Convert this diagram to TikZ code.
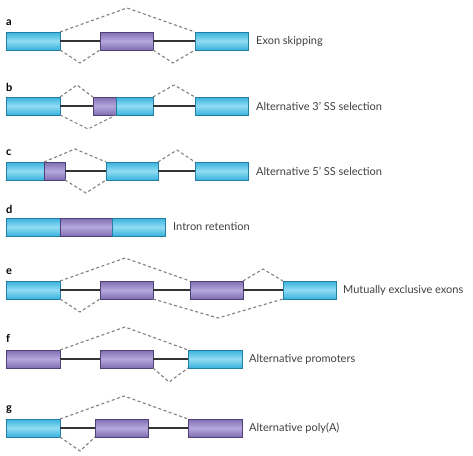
\documentclass[tikz,border=0pt]{standalone}
\usepackage{fontspec}
\setmainfont{Lato}
\usetikzlibrary{positioning}
\definecolor{exoncyan}{RGB}{55,178,220}
\definecolor{exoncyanlt}{RGB}{145,220,244}
\definecolor{exoncyandk}{RGB}{35,125,165}
\definecolor{exonpurp}{RGB}{128,110,178}
\definecolor{exonpurplt}{RGB}{180,168,220}
\definecolor{exonpurpdk}{RGB}{80,64,120}
\tikzset{
    exon/.style={inner sep=0pt, outer sep=0pt, minimum height=18pt, anchor=north west, line width=0.6pt}, % common box
    cexon/.style={exon, draw=exoncyandk, top color=exoncyan, bottom color=exoncyan, middle color=exoncyanlt},
    pexon/.style={exon, draw=exonpurpdk, top color=exonpurp, bottom color=exonpurp, middle color=exonpurplt},
    intron/.style={draw=black!80, line width=1.1pt}, % plain intron line
    splice/.style={draw=black!50, line width=1.1pt, dash pattern=on 3pt off 2.5pt}, % splicing path
    tag/.style={anchor=west, inner sep=0pt, font=\bfseries\fontsize{11}{12}\selectfont},
    caption/.style={anchor=west, inner sep=0pt, text=black!75, font=\fontsize{11}{12}\selectfont},
}
\begin{document}
\begin{tikzpicture}[x=1pt, y=-1pt]
    \useasboundingbox[fill=white] (0,0) rectangle (473,455);

    % a: exon skipping
    \node[tag] (atag) at (6,23) {a};
    \node[cexon, minimum width=54pt] (a1) at (6,32) {};
    \node[pexon, minimum width=53pt] (a2) at (100,32) {};
    \node[cexon, minimum width=53pt] (a3) at (195,32) {};
    \node[caption] (acap) at (256,41) {Exon skipping};
    \coordinate (atop) at (127,8);
    \coordinate (adipl) at (80,63);
    \coordinate (adipr) at (173,63);
    \draw[intron] (a1) -- (a2);
    \draw[intron] (a2) -- (a3);
    \draw[splice] (a1.north east) -- (atop) -- (a3.north west);
    \draw[splice] (a1.south east) -- (adipl) -- (a2.south west);
    \draw[splice] (a2.south east) -- (adipr) -- (a3.south west);

    % b: alternative 3' splice site
    \node[tag] (btag) at (6,87) {b};
    \node[cexon, minimum width=54pt] (b1) at (6,97) {};
    \node[pexon, minimum width=23pt] (b2) at (93,97) {};
    \node[cexon, minimum width=37pt] (b3) at (116,97) {};
    \node[cexon, minimum width=53pt] (b4) at (195,97) {};
    \node[caption] (bcap) at (256,106) {Alternative 3’ SS selection};
    \coordinate (btopl) at (77,85);
    \coordinate (btopr) at (174,85);
    \coordinate (bdip) at (88,129);
    \draw[intron] (b1) -- (b2);
    \draw[intron] (b3) -- (b4);
    \draw[splice] (b1.north east) -- (btopl) -- (b2.north west);
    \draw[splice] (b3.north east) -- (btopr) -- (b4.north west);
    \draw[splice] (b1.south east) -- (bdip) -- (b3.south west);

    % c: alternative 5' splice site
    \node[tag] (ctag) at (6,153) {c};
    \node[cexon, minimum width=38pt] (c1) at (6,162) {};
    \node[pexon, minimum width=21pt] (c2) at (44,162) {};
    \node[cexon, minimum width=52pt] (c3) at (106,162) {};
    \node[cexon, minimum width=53pt] (c4) at (195,162) {};
    \node[caption] (ccap) at (256,171) {Alternative 5’ SS selection};
    \coordinate (ctopl) at (75,149);
    \coordinate (ctopr) at (177,150);
    \coordinate (cdip) at (86,193);
    \draw[intron] (c2) -- (c3);
    \draw[intron] (c3) -- (c4);
    \draw[splice] (c2.north west) -- (ctopl) -- (c3.north west);
    \draw[splice] (c3.north east) -- (ctopr) -- (c4.north west);
    \draw[splice] (c2.south east) -- (cdip) -- (c3.south west);

    % d: intron retention
    \node[tag] (dtag) at (6,209) {d};
    \node[cexon, minimum width=54pt] (d1) at (6,218) {};
    \node[pexon, minimum width=52pt] (d2) at (60,218) {};
    \node[cexon, minimum width=53pt] (d3) at (112,218) {};
    \node[caption] (dcap) at (173,227) {Intron retention};

    % e: mutually exclusive exons
    \node[tag] (etag) at (6,272) {e};
    \node[cexon, minimum width=54pt] (e1) at (6,281) {};
    \node[pexon, minimum width=53pt] (e2) at (100,281) {};
    \node[pexon, minimum width=53pt] (e3) at (190,281) {};
    \node[cexon, minimum width=53pt] (e4) at (283,281) {};
    \node[caption] (ecap) at (343,290) {Mutually exclusive exons};
    \coordinate (etop) at (125,258);
    \coordinate (etopr) at (263,269);
    \coordinate (edipl) at (80,312);
    \coordinate (edip) at (218,318);
    \draw[intron] (e1) -- (e2);
    \draw[intron] (e2) -- (e3);
    \draw[intron] (e3) -- (e4);
    \draw[splice] (e1.north east) -- (etop) -- (e3.north west);
    \draw[splice] (e3.north east) -- (etopr) -- (e4.north west);
    \draw[splice] (e1.south east) -- (edipl) -- (e2.south west);
    \draw[splice] (e2.south east) -- (edip) -- (e4.south west);

    % f: alternative promoters
    \node[tag] (ftag) at (6,338) {f};
    \node[pexon, minimum width=54pt] (f1) at (6,350) {};
    \node[pexon, minimum width=53pt] (f2) at (100,350) {};
    \node[cexon, minimum width=54pt] (f3) at (188,350) {};
    \node[caption] (fcap) at (249,359) {Alternative promoters};
    \coordinate (ftop) at (125,327);
    \coordinate (fdip) at (169,382);
    \draw[intron] (f1) -- (f2);
    \draw[intron] (f2) -- (f3);
    \draw[splice] (f1.north east) -- (ftop) -- (f3.north west);
    \draw[splice] (f2.south east) -- (fdip) -- (f3.south west);

    % g: alternative poly(A)
    \node[tag] (gtag) at (6,410) {g};
    \node[cexon, minimum width=54pt] (g1) at (6,419) {};
    \node[pexon, minimum width=53pt] (g2) at (95,419) {};
    \node[pexon, minimum width=54pt] (g3) at (188,419) {};
    \node[caption] (gcap) at (249,428) {Alternative poly(A)};
    \coordinate (gtop) at (124,396);
    \coordinate (gdip) at (80,451);
    \draw[intron] (g1) -- (g2);
    \draw[intron] (g2) -- (g3);
    \draw[splice] (g1.north east) -- (gtop) -- (g3.north west);
    \draw[splice] (g1.south east) -- (gdip) -- (g2.south west);
\end{tikzpicture}
\end{document}
